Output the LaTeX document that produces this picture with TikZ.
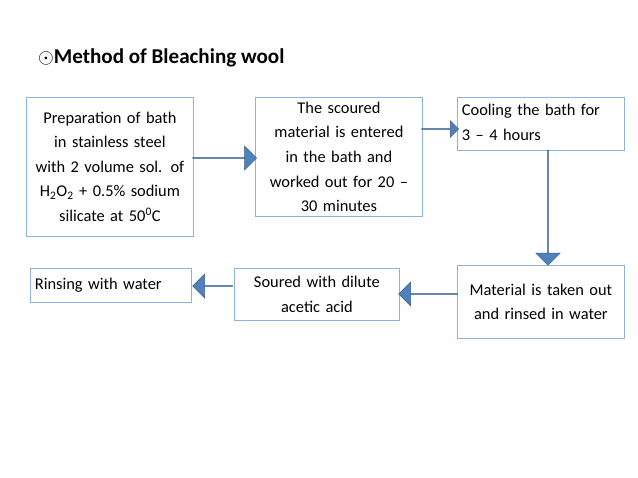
\documentclass[tikz,border=0pt]{standalone}
\usepackage{fontspec}
\setmainfont{Carlito}
\usetikzlibrary{shapes.arrows}
\definecolor{boxline}{HTML}{8DB3E2}
\definecolor{arrfill}{HTML}{4F81BD}
\definecolor{arrline}{HTML}{385D8A}
\tikzset{
  box/.style={draw=boxline,anchor=north west,inner sep=4pt,font=\fontsize{14}{21}\selectfont},
  sarrow/.style={single arrow,draw=arrline,fill=arrfill,inner sep=0pt,
    single arrow head extend=0.18cm,minimum width=0.72cm}
}
\begin{document}
\begin{tikzpicture}[x=0.03cm,y=-0.03cm]
\useasboundingbox (0,0) rectangle (638,478);
\node[anchor=west,font=\fontsize{18}{20}\selectfont\bfseries] (title) at (34,58) {$\odot$Method of Bleaching wool};
\node[box,align=center,minimum width=165*0.03cm,minimum height=139*0.03cm,text width=158*0.03cm] (b1) at (26,97)
  {Preparation of bath\\in stainless steel\\with 2 volume sol. of\\H\textsubscript{2}O\textsubscript{2} + 0.5\% sodium\\silicate at 50\textsuperscript{0}C\\[14pt]};
\node[box,align=center,minimum width=165*0.03cm,minimum height=117*0.03cm,text width=158*0.03cm] (b2) at (255,97)
  {The scoured\\material is entered\\in the bath and\\worked out for 20 --\\30 minutes};
\node[box,align=left,minimum width=165*0.03cm,minimum height=53*0.03cm,text width=158*0.03cm] (b3) at (457,97)
  {Cooling the bath for\\3 -- 4 hours\vphantom{g}};
\node[box,align=center,minimum width=165*0.03cm,minimum height=73*0.03cm,text width=158*0.03cm] (b4) at (457,265)
  {Material is taken out\\and rinsed in water\\[14pt]};
\node[box,align=center,minimum width=164*0.03cm,minimum height=52*0.03cm,text width=156*0.03cm] (b5) at (234,268)
  {Soured with dilute\\acetic acid};
\node[box,align=left,minimum width=160*0.03cm,minimum height=34*0.03cm,text width=152*0.03cm] (b6) at (30,268)
  {Rinsing with water};
\path (b1.east|-0,158) -- (b2.west|-0,158) node[midway,sarrow,minimum height=64*0.03cm] (a1) {};
\path (b2.east|-0,129) -- (b3.west|-0,129) node[midway,sarrow,minimum height=37*0.03cm,minimum width=0.5cm,single arrow head extend=0.12cm] (a2) {};
\path (548,150) -- (548,265) node[midway,sarrow,shape border rotate=270,minimum height=115*0.03cm] (a3) {};
\path (b4.west|-0,294) -- (b5.east|-0,294) node[midway,sarrow,shape border rotate=180,minimum height=59*0.03cm] (a4) {};
\path (b5.west|-0,286) -- (b6.east|-0,286) node[midway,sarrow,shape border rotate=180,minimum height=40*0.03cm] (a5) {};
\end{tikzpicture}
\end{document}
